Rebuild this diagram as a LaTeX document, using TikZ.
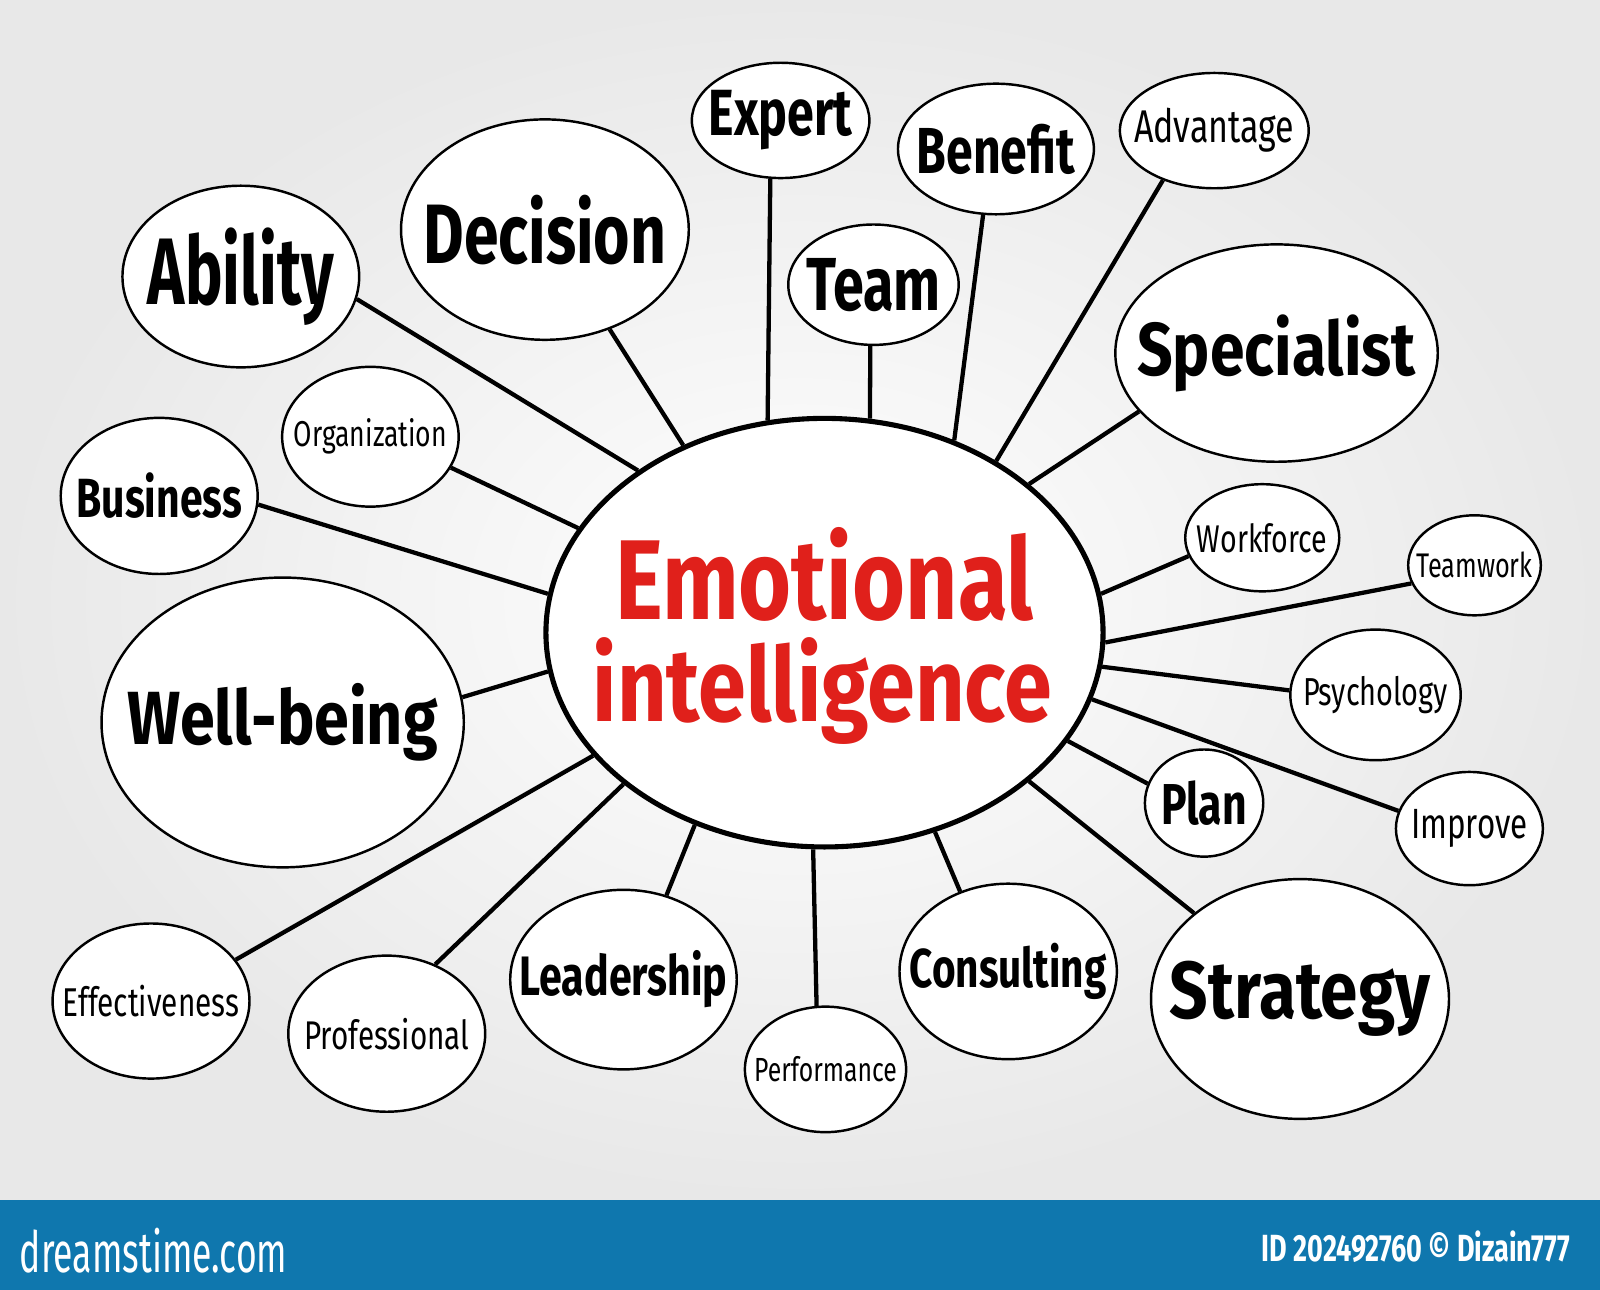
\documentclass[tikz,border=0pt]{standalone}
\usepackage{fontspec}
\setmainfont{Fira Sans}
\usetikzlibrary{shapes.geometric}

\definecolor{eired}{HTML}{E0201B}
\definecolor{stripe}{HTML}{0F77AE}

% hand lettering: tall letters fitted to a width, no width for the ellipse
\newcommand{\hw}[3][1.35]{\makebox[0pt]{\resizebox{#2pt}{!}{\scalebox{1}[#1]{#3}}}}

\tikzset{
  bubble/.style = {ellipse, draw, line width=2.4pt, fill=white, inner sep=0pt},
  bub/.style 2 args = {bubble, minimum width=#1pt, minimum height=#2pt},
  hub/.style = {ellipse, draw, line width=5pt, fill=white, inner sep=0pt,
                minimum width=546pt, minimum height=420pt},
  link/.style = {line width=4.2pt},
  thick word/.style = {font=\bfseries},
}

\begin{document}
\begin{tikzpicture}[x=1pt, y=-1pt]
  \useasboundingbox (0,0) rectangle (1568,1264);
  \shade[inner color=white, outer color=black!9] (0,0) rectangle (1568,1176);

  % centre
  \node[hub] (ei) at (808,620) {};
  \node[text=eired, thick word, anchor=base] (emo) at (808,607) {\hw[1.25]{410}{Emotional}};
  \node[text=eired, thick word, anchor=base] (intel) at (806,707) {\hw[1.2]{450}{intelligence}};

  % top and left
  \node[bub={232}{178}, thick word] (ability) at (236,271) {\hw[1.5]{182}{Ability}};
  \node[bub={282}{216}, thick word] (decision) at (534,225) {\hw{238}{Decision}};
  \node[bub={174}{113}, thick word] (expert) at (765,118) {\hw{141}{Expert}};
  \node[bub={192}{128}, thick word] (benefit) at (976,146) {\hw{155}{Benefit}};
  \node[bub={185}{113}] (advantage) at (1190,128) {\hw{157}{Advantage}};
  \node[bub={167}{118}, thick word] (team) at (856,279) {\hw{132}{Team}};
  \node[bub={316}{213}, thick word] (specialist) at (1251,346) {\hw[1.2]{273}{Specialist}};
  \node[bub={173}{137}] (organization) at (363,428) {\hw{150}{Organization}};
  \node[bub={193}{153}, thick word] (business) at (156,486) {\hw{162}{Business}};
  \node[bub={355}{284}, thick word] (wellbeing) at (277,708) {\hw[1.2]{304}{Well-being}};

  % right
  \node[bub={151}{105}] (workforce) at (1237,527) {\hw{128}{Workforce}};
  \node[bub={130}{98}] (teamwork) at (1445,554) {\hw{114}{Teamwork}};
  \node[bub={167}{128}] (psychology) at (1348,681) {\hw{142}{Psychology}};
  \node[bub={116}{105}, thick word] (plan) at (1180,787) {\hw{84}{Plan}};
  \node[bub={144}{111}] (improve) at (1440,812) {\hw{114}{Improve}};
  \node[bub={292}{235}, thick word] (strategy) at (1274,979) {\hw[1.2]{255}{Strategy}};

  % bottom
  \node[bub={213}{172}, thick word] (consulting) at (988,952) {\hw{193}{Consulting}};
  \node[bub={158}{123}] (performance) at (809,1048) {\hw{140}{Performance}};
  \node[bub={222}{176}, thick word] (leadership) at (611,960) {\hw{204}{Leadership}};
  \node[bub={193}{153}] (professional) at (379,1013) {\hw{162}{Professional}};
  \node[bub={193}{152}] (effectiveness) at (148,981) {\hw{173}{Effectiveness}};

  % spokes
  \foreach \n/\a/\b in {ability/-11/139, decision/-57/127.5, expert/-100/105.6,
      team/-93/78.7, benefit/-101.5/56.8, advantage/-136/45.5,
      specialist/-157.6/36.2, organization/-21.8/157.4, business/-5.3/172,
      wellbeing/8.9/-172, workforce/-166/8.7, teamwork/-164.5/-2.1,
      psychology/177/-7.7, improve/166/-14.7, plan/161/-24.4,
      strategy/141.7/-36.6, consulting/121/-61.4, performance/98.4/-93.4,
      leadership/63.2/-124.5, professional/55/-143.3, effectiveness/26.8/-152.3}
    \draw[link] (\n.\a) -- (ei.\b);

  % credit strip
  \fill[stripe] (0,1176) rectangle (1568,1264);
  \node[text=white, anchor=west] (site) at (16,1226) {\resizebox{262pt}{!}{\scalebox{1}[1.6]{dreamstime.com}}};
  \node[text=white, anchor=east, thick word] (imgid) at (1542,1222) {\resizebox{302pt}{!}{\scalebox{1}[1.4]{ID 202492760 © Dizain777}}};
\end{tikzpicture}
\end{document}
